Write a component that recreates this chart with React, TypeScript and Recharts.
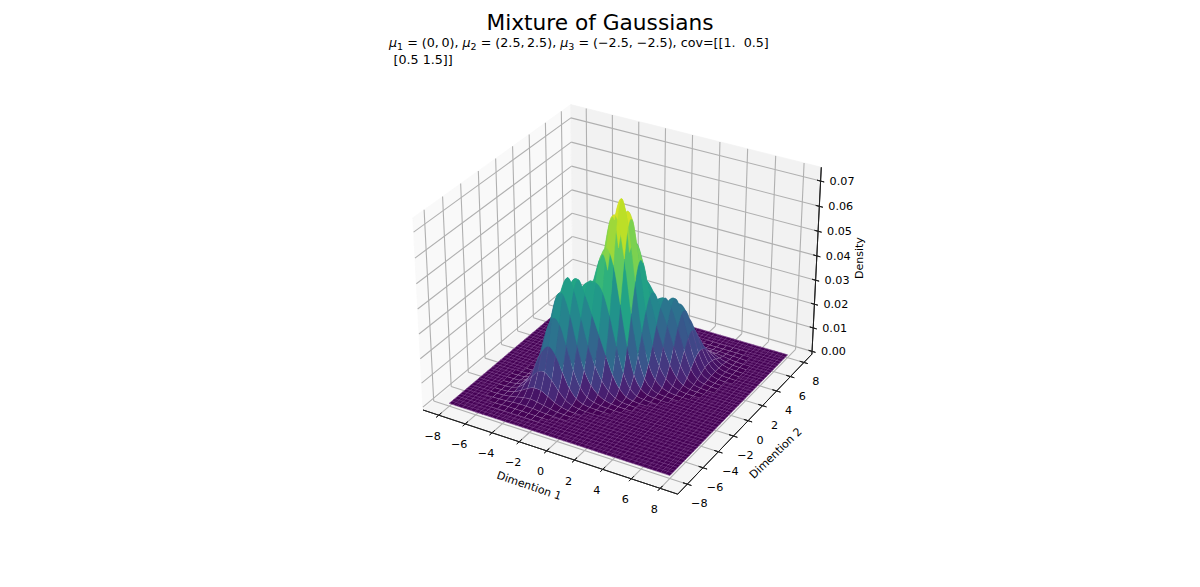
import { Scatter, ScatterChart, XAxis, YAxis } from "recharts";

// grid of the surface, both dimensions
const gridAxis = [
  -8, -7.5, -7, -6.5, -6, -5.5, -5, -4.5, -4, -3.5, -3, -2.5, -2, -1.5, -1, -0.5, 0,
  0.5, 1, 1.5, 2, 2.5, 3, 3.5, 4, 4.5, 5, 5.5, 6, 6.5, 7, 7.5, 8,
];

// density x 10000, one row per Dimention 2 value from -6.5 to 6.5
// the first number of a row is the half-step index (from -8) where it leaves the floor
const densityRows = [
  [6, 1, 2, 2, 2, 1, 1],
  [5, 1, 3, 5, 7, 7, 6, 3, 1],
  [4, 1, 2, 6, 12, 18, 21, 18, 12, 6, 2, 1],
  [4, 1, 3, 10, 24, 41, 52, 50, 35, 18, 7, 2],
  [4, 1, 4, 15, 39, 74, 105, 111, 86, 51, 22, 8, 2],
  [4, 1, 5, 18, 52, 111, 174, 203, 176, 114, 55, 21, 7, 2, 1],
  [4, 1, 4, 18, 58, 135, 234, 303, 290, 210, 116, 53, 21, 8, 3, 1],
  [4, 1, 3, 15, 52, 135, 260, 371, 395, 320, 205, 110, 55, 25, 10, 3, 1],
  [5, 2, 10, 39, 111, 235, 373, 444, 407, 302, 198, 122, 68, 33, 12, 3, 1],
  [5, 1, 6, 24, 74, 176, 308, 411, 433, 383, 311, 236, 159, 86, 37, 11, 3],
  [6, 3, 12, 41, 107, 210, 317, 388, 418, 424, 394, 307, 188, 88, 31, 8, 2],
  [6, 1, 5, 19, 53, 118, 205, 298, 399, 501, 554, 496, 344, 182, 73, 23, 6, 2],
  [7, 2, 7, 22, 55, 111, 198, 330, 506, 652, 662, 513, 302, 138, 51, 17, 5, 2],
  [8, 2, 8, 21, 52, 115, 236, 431, 638, 728, 631, 418, 219, 98, 40, 15, 5, 1],
  [9, 2, 7, 21, 57, 145, 308, 515, 659, 640, 483, 295, 161, 83, 38, 15, 5, 1],
  [10, 2, 7, 25, 75, 183, 344, 491, 537, 464, 341, 231, 147, 81, 36, 12, 3, 1],
  [11, 2, 9, 33, 90, 188, 302, 374, 379, 340, 288, 222, 143, 72, 27, 8, 2],
  [12, 3, 11, 36, 85, 154, 219, 266, 297, 310, 283, 208, 118, 50, 16, 4, 1],
  [13, 3, 12, 32, 65, 109, 161, 224, 284, 302, 250, 157, 74, 26, 7, 1],
  [13, 1, 3, 10, 23, 47, 86, 147, 220, 267, 248, 174, 90, 35, 10, 2],
  [14, 1, 3, 7, 17, 39, 81, 143, 195, 203, 156, 90, 38, 12, 3, 1],
  [16, 2, 5, 15, 38, 77, 118, 136, 116, 74, 35, 12, 3, 1],
  [17, 1, 5, 15, 34, 58, 74, 70, 50, 26, 10, 3, 1],
  [18, 1, 5, 12, 23, 33, 35, 27, 16, 7, 2, 1],
  [19, 1, 4, 8, 12, 14, 12, 8, 4, 1],
  [20, 1, 2, 4, 5, 5, 3, 2, 1],
  [22, 1, 1, 1, 1, 1],
];
const firstRow = 3;

const dimTicks = [-8, -6, -4, -2, 0, 2, 4, 6, 8];
const densityTicks = [0, 0.01, 0.02, 0.03, 0.04, 0.05, 0.06, 0.07];
const viridis = [
  "#440154", "#482475", "#414487", "#355f8d", "#2a788e", "#21918c",
  "#22a884", "#44bf70", "#7ad151", "#bddf26", "#fde725",
];

const W = 1200;
const H = 587;
// 3d view of the axes, same as elev=30 azim=-60
const LIM = 9.2;
const Z_LO = -0.0012;
const Z_HI = 0.0754;
const Z_TOP = 0.0728;
const BOX_XY = 0.6537;
const BOX_Z = 0.4902;
const PX = 2230;
const ORIGIN_X = 621.4;
const ORIGIN_Y = 289.1;
const MESH_STEP = 0.32;
const FONT = "DejaVu Sans";

const project = (x: number, y: number, z: number) => {
  const dx = (x / LIM) * BOX_XY;
  const dy = (y / LIM) * BOX_XY;
  const dz = (((z - Z_LO) / (Z_HI - Z_LO)) * 2 - 1) * BOX_Z;
  const depth = 10 - (0.433 * dx - 0.75 * dy + 0.5 * dz);
  return {
    sx: (0.866 * dx + 0.5 * dy) / depth,
    sy: (-0.25 * dx + 0.433 * dy + 0.866 * dz) / depth,
    depth,
  };
};

const hexToRgb = (h: string) => [1, 3, 5].map((k) => parseInt(h.slice(k, k + 2), 16));
const colorAt = (t: number) => {
  const p = Math.min(Math.max(t, 0), 1) * (viridis.length - 1);
  const k = Math.min(Math.floor(p), viridis.length - 2);
  const a = hexToRgb(viridis[k]);
  const b = hexToRgb(viridis[k + 1]);
  const c = a.map((v, n) => Math.round(v + (b[n] - v) * (p - k)));
  return `rgb(${c.join(",")})`;
};

const zAt = (col: number, row: number) => {
  const r = densityRows[row - firstRow];
  if (!r) return 0;
  const v = r[col - r[0] + 1];
  return col >= r[0] && v !== undefined ? v / 10000 : 0;
};

const polygon = (corners: number[][], fill: string) => {
  const pts = corners.map(([x, y, z]) => project(x, y, z));
  return { sx: pts[0].sx, sy: pts[0].sy, pts, fill, stroke: fill, strokeWidth: 0.8 };
};

const gridPoints = gridAxis.map((_, r) =>
  gridAxis.map((__, c) => project(gridAxis[c], gridAxis[r], zAt(c, r)))
);

// edge of a cell as a cubic through its two grid points, tangents from the neighbours
const edge = (a: any, b: any, before: any, after: any) => [
  { sx: a.sx + (b.sx - before.sx) / 6, sy: a.sy + (b.sy - before.sy) / 6 },
  { sx: b.sx - (after.sx - a.sx) / 6, sy: b.sy - (after.sy - a.sy) / 6 },
];

const buildCells = () => {
  const flat: any[] = [];
  const hump: any[] = [];
  const n = gridAxis.length - 1;
  const at = (r: number, c: number) =>
    gridPoints[Math.min(Math.max(r, 0), n)][Math.min(Math.max(c, 0), n)];
  for (let r = 0; r < n; r++) {
    for (let c = 0; c < n; c++) {
      const four = [zAt(c, r), zAt(c + 1, r), zAt(c + 1, r + 1), zAt(c, r + 1)];
      const mean = (four[0] + four[1] + four[2] + four[3]) / 4;
      const p0 = at(r, c);
      const p1 = at(r, c + 1);
      const p2 = at(r + 1, c + 1);
      const p3 = at(r + 1, c);
      if (mean === 0) {
        flat.push({
          sx: p0.sx, sy: p0.sy, pts: [p0, p1, p2, p3],
          fill: viridis[0], stroke: viridis[0], strokeWidth: 0.5,
        });
        continue;
      }
      // part of the colour comes from the 2x2 block around the cell
      const bc = c - (c % 2);
      const br = r - (r % 2);
      let top = 0;
      for (let a = 0; a <= 2; a++) for (let b = 0; b <= 2; b++) top = Math.max(top, zAt(bc + a, br + b));
      const fill = colorAt((0.78 * mean + 0.22 * top) / Z_TOP);
      const fade = Math.max(0, 1 - mean / 0.016);
      const path = [
        p0,
        ...edge(p0, p1, at(r, c - 1), at(r, c + 2)),
        p1,
        ...edge(p1, p2, at(r - 1, c + 1), at(r + 2, c + 1)),
        p2,
        ...edge(p2, p3, at(r + 1, c + 2), at(r + 1, c - 1)),
        p3,
        ...edge(p3, p0, at(r + 2, c), at(r - 1, c)),
        p0,
      ];
      hump.push({
        sx: p0.sx, sy: p0.sy, curve: path, fill,
        stroke: fade > 0 ? `rgba(215,185,230,${0.05 + 0.27 * fade})` : fill,
        strokeWidth: fade > 0 ? 0.5 : 0.35,
        order: (p0.depth + p1.depth + p2.depth + p3.depth) / 4,
      });
    }
  }
  hump.sort((a, b) => b.order - a.order);
  return { flat, hump };
};

// fine lines on the flat part of the floor
const buildFloorMesh = () => {
  const count = Math.round(16 / MESH_STEP);
  const isFlat = (x: number, y: number) => {
    const c = Math.floor((x + 8) * 2);
    const r = Math.floor((y + 8) * 2);
    return [0, 1].every((a) => [0, 1].every((b) => zAt(c + a, r + b) === 0));
  };
  const segs: any[] = [];
  for (let a = 0; a <= count; a++) {
    const t = -8 + a * MESH_STEP;
    for (let b = 0; b < count; b++) {
      const u = -8 + b * MESH_STEP;
      const v = u + MESH_STEP;
      if (isFlat(t, (u + v) / 2)) segs.push([project(t, u, 0), project(t, v, 0)]);
      if (isFlat((u + v) / 2, t)) segs.push([project(u, t, 0), project(v, t, 0)]);
    }
  }
  const start = segs[0][0];
  return [{ sx: start.sx, sy: start.sy, segs }];
};

const walls = [
  polygon([[-LIM, -LIM, Z_LO], [-LIM, LIM, Z_LO], [-LIM, LIM, Z_HI], [-LIM, -LIM, Z_HI]], "#f9f9f9"),
  polygon([[-LIM, LIM, Z_LO], [LIM, LIM, Z_LO], [LIM, LIM, Z_HI], [-LIM, LIM, Z_HI]], "#f2f2f2"),
  polygon([[-LIM, -LIM, Z_LO], [LIM, -LIM, Z_LO], [LIM, LIM, Z_LO], [-LIM, LIM, Z_LO]], "#f5f5f5"),
];

const seg = (a: number[], b: number[], stroke: string, strokeWidth: number) => {
  const p = project(a[0], a[1], a[2]);
  const q = project(b[0], b[1], b[2]);
  return { sx: p.sx, sy: p.sy, pts: [p, q], fill: "none", stroke, strokeWidth };
};

const GRID = "#b0b0b0";
const gridLines = [
  ...dimTicks.flatMap((t) => [
    seg([t, -LIM, Z_LO], [t, LIM, Z_LO], GRID, 1.1),
    seg([t, LIM, Z_LO], [t, LIM, Z_HI], GRID, 1.1),
    seg([LIM, t, Z_LO], [-LIM, t, Z_LO], GRID, 1.1),
    seg([-LIM, t, Z_LO], [-LIM, t, Z_HI], GRID, 1.1),
  ]),
  ...densityTicks.flatMap((t) => [
    seg([LIM, LIM, t], [-LIM, LIM, t], GRID, 1.1),
    seg([-LIM, LIM, t], [-LIM, -LIM, t], GRID, 1.1),
  ]),
];

const INK = "#222222";
const axisLines = [
  seg([-LIM, -LIM, Z_LO], [LIM, -LIM, Z_LO], INK, 1),
  seg([LIM, -LIM, Z_LO], [LIM, LIM, Z_LO], INK, 1),
  seg([LIM, LIM, Z_LO], [LIM, LIM, Z_HI], INK, 1),
  ...dimTicks.flatMap((t) => [
    seg([t, -LIM - 0.28, Z_LO], [t, -LIM + 0.3, Z_LO], INK, 1),
    seg([LIM + 0.28, t, Z_LO], [LIM - 0.3, t, Z_LO], INK, 1),
  ]),
  ...densityTicks.map((t) => seg([LIM - 0.25, LIM, t], [LIM + 0.25, LIM, t], INK, 1)),
];

const mark = (x: number, y: number, z: number, text: string, dx: number, dy: number, extra = {}) => {
  const p = project(x, y, z);
  return { sx: p.sx, sy: p.sy, text, dx, dy, anchor: "middle", rotate: 0, size: 11.2, ...extra };
};

const fmtTick = (t: number) => String(t).replace("-", "\u2212");
const labels = [
  ...dimTicks.map((t) => mark(t, -LIM, Z_LO, fmtTick(t), -6, 21)),
  ...dimTicks.map((t) => mark(LIM, t, Z_LO, fmtTick(t), 12, 19.5)),
  ...densityTicks.map((t) => mark(LIM, LIM, t, t.toFixed(2), 9, 0.5, { anchor: "start" })),
  mark(0, -LIM, Z_LO, "Dimention 1", -17.7, 35, { rotate: 19, size: 11 }),
  mark(LIM, 0, Z_LO, "Dimention 2", 27.6, 32.6, { rotate: -44, size: 11 }),
  mark(LIM, LIM, 0.035, "Density", 43, -10, { rotate: -90, size: 11 }),
];

const { flat, hump } = buildCells();
const floorMesh = buildFloorMesh();

const Poly = ({ cx, cy, payload }: any) => {
  const d = payload.pts.map((p: any) => `${cx + (p.sx - payload.sx) * PX},${cy - (p.sy - payload.sy) * PX}`).join(" ");
  return <polygon points={d} fill={payload.fill} stroke={payload.stroke} strokeWidth={payload.strokeWidth} />;
};

const Curved = ({ cx, cy, payload }: any) => {
  const xy = (p: any) => `${cx + (p.sx - payload.sx) * PX} ${cy - (p.sy - payload.sy) * PX}`;
  const c = payload.curve;
  let d = `M${xy(c[0])}`;
  for (let k = 1; k < c.length; k += 3) d += `C${xy(c[k])} ${xy(c[k + 1])} ${xy(c[k + 2])}`;
  return <path d={d + "Z"} fill={payload.fill} stroke={payload.stroke} strokeWidth={payload.strokeWidth} />;
};

const Mesh = ({ cx, cy, payload }: any) => {
  const xy = (p: any) => `${(cx + (p.sx - payload.sx) * PX).toFixed(1)} ${(cy - (p.sy - payload.sy) * PX).toFixed(1)}`;
  const d = payload.segs.map(([a, b]: any) => `M${xy(a)}L${xy(b)}`).join("");
  return <path d={d} fill="none" stroke="rgba(215,175,230,0.38)" strokeWidth={0.55} />;
};

const Label3d = ({ cx, cy, payload }: any) => {
  const x = cx + payload.dx;
  const y = cy + payload.dy;
  return (
    <text
      x={x}
      y={y}
      textAnchor={payload.anchor}
      dominantBaseline="central"
      fontFamily={FONT}
      fontSize={payload.size}
      fill="#000"
      transform={payload.rotate ? `rotate(${payload.rotate} ${x} ${y})` : undefined}
    >
      {payload.text}
    </text>
  );
};

const Mu = ({ n, after }: { n: number; after: string }) => (
  <>
    <tspan fontStyle="italic">{"\u03bc"}</tspan>
    <tspan fontSize={9.5} dy={2.5}>{n}</tspan>
    <tspan dy={-2.5}>{after}</tspan>
  </>
);

export default function App() {
  return (
    <div style={{ position: "absolute", left: 0, top: 0, width: W, height: H, background: "#fff" }}>
      <ScatterChart width={W} height={H} margin={{ top: 0, right: 0, bottom: 0, left: 0 }}>
        <XAxis
          type="number"
          dataKey="sx"
          hide
          domain={[-ORIGIN_X / PX, (W - ORIGIN_X) / PX]}
          allowDataOverflow
        />
        <YAxis
          type="number"
          dataKey="sy"
          hide
          domain={[(ORIGIN_Y - H) / PX, ORIGIN_Y / PX]}
          allowDataOverflow
        />
        <Scatter data={walls} shape={Poly} isAnimationActive={false} />
        <Scatter data={gridLines} shape={Poly} isAnimationActive={false} />
        <Scatter data={axisLines} shape={Poly} isAnimationActive={false} />
        <Scatter data={flat} shape={Poly} isAnimationActive={false} />
        <Scatter data={floorMesh} shape={Mesh} isAnimationActive={false} />
        <Scatter data={hump} shape={Curved} isAnimationActive={false} />
        <Scatter data={labels} shape={Label3d} isAnimationActive={false} />
        <text x={600} y={30} textAnchor="middle" fontFamily={FONT} fontSize={21.7} fill="#000">
          Mixture of Gaussians
        </text>
        <text x={389} y={47} fontFamily={FONT} fontSize={12.7} fill="#000">
          <Mu n={1} after={" = (0,\u20090), "} />
          <Mu n={2} after={" = (2.5,\u20092.5), "} />
          <Mu n={3} after={" = (\u22122.5, \u22122.5), cov=[[1.\u00a0\u00a00.5]"} />
        </text>
        <text x={393.5} y={64} fontFamily={FONT} fontSize={12.7} fill="#000">
          [0.5 1.5]]
        </text>
      </ScatterChart>
    </div>
  );
}
